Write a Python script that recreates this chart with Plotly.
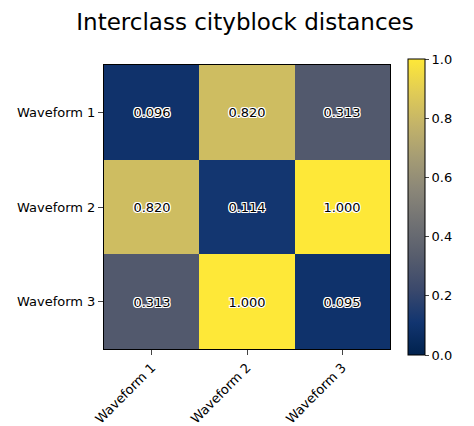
import plotly.graph_objects as go

labels = ["Waveform 1", "Waveform 2", "Waveform 3"]
distances = [
    [0.096, 0.820, 0.313],
    [0.820, 0.114, 1.000],
    [0.313, 1.000, 0.095],
]

font = "DejaVu Sans"
outline = ("-1px -1px 0 white, 1px -1px 0 white, -1px 1px 0 white, 1px 1px 0 white, "
           "0 -1px 0 white, 0 1px 0 white, -1px 0 0 white, 1px 0 0 white")

fig = go.Figure(go.Heatmap(
    z=distances, x=labels, y=labels,
    colorscale="Cividis", zmin=0, zmax=1,
    text=[[f"{v:.3f}" for v in row] for row in distances],
    texttemplate="%{text}",
    textfont=dict(family=font, size=13, color="black", shadow=outline),
    colorbar=dict(x=1.063, xanchor="left", thickness=17, thicknessmode="pixels",
                  len=296, lenmode="pixels", y=0.5, yanchor="middle",
                  tickmode="linear", tick0=0, dtick=0.2, tickformat=".1f",
                  ticks="outside", ticklen=4, outlinecolor="black", outlinewidth=1,
                  xpad=0, ypad=0,
                  tickfont=dict(family=font, size=13, color="black")),
    hoverinfo="skip",
))

fig.update_layout(
    width=474, height=426,
    margin=dict(l=96, r=92, t=57, b=85, autoexpand=False),
    paper_bgcolor="white", plot_bgcolor="white",
    title=dict(text="Interclass cityblock distances", x=0.5, xanchor="center",
               y=0.985, yanchor="top", font=dict(family=font, size=23, color="black")),
)
fig.update_xaxes(showline=True, mirror=True, linecolor="black", ticks="outside",
                 automargin=False, tickangle=-45,
                 tickfont=dict(family=font, size=13, color="black"))
fig.update_yaxes(showline=True, mirror=True, linecolor="black", ticks="outside",
                 automargin=False, autorange="reversed",
                 tickfont=dict(family=font, size=13, color="black"))

fig.write_html("out.html")
